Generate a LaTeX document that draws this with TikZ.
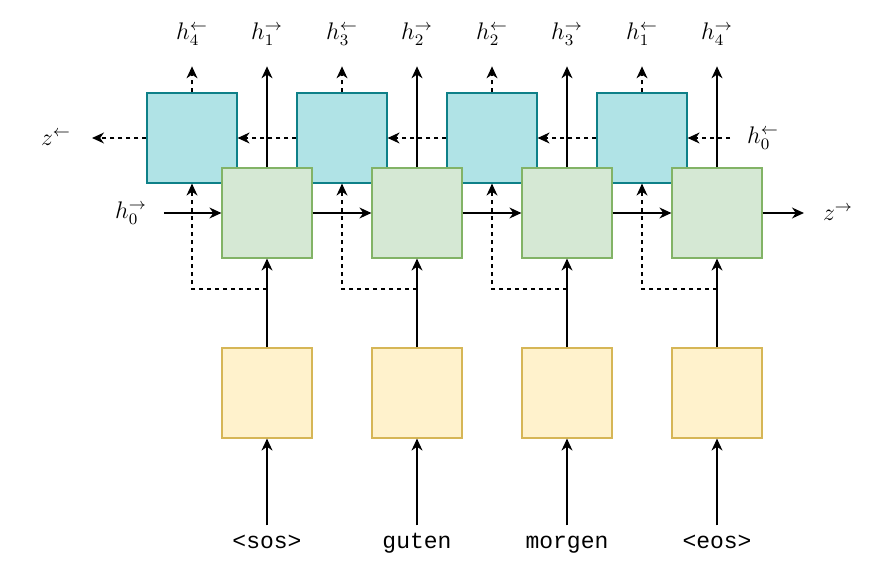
\documentclass[tikz,border=0pt]{standalone}
\usepackage{amsmath}
\usepackage{fontspec}
\setmonofont{Liberation Mono}
\usetikzlibrary{arrows.meta}

\definecolor{bwdFill}{HTML}{B0E3E6}
\definecolor{bwdLine}{HTML}{0E8088}
\definecolor{fwdFill}{HTML}{D5E8D4}
\definecolor{fwdLine}{HTML}{82B366}
\definecolor{embFill}{HTML}{FFF2CC}
\definecolor{embLine}{HTML}{D6B656}

\tikzset{
  cell/.style={draw, line width=0.6pt, minimum size=45pt, inner sep=0pt},
  bwdcell/.style={cell, fill=bwdFill, draw=bwdLine},
  fwdcell/.style={cell, fill=fwdFill, draw=fwdLine},
  embcell/.style={cell, fill=embFill, draw=embLine},
  flow/.style={->, line width=0.7pt},
  back/.style={flow, dash pattern=on 2pt off 2pt},
  token/.style={font=\ttfamily\fontsize{11.5}{14}\selectfont, text height=8pt, text depth=2.5pt},
  state/.style={font=\fontsize{12}{14}\selectfont},
}

\begin{document}
\begin{tikzpicture}[x=0.5pt, y=-0.5pt, >={Stealth[length=6pt,width=5.5pt]}]
    \useasboundingbox (0,0) rectangle (879,562);

    % Backward cells (drawn first, forward cells overlap them)
    \foreach \i/\x in {1/267,2/417,3/567,4/717}
        \node[bwdcell] (b\i) at (\x-75,138) {};

    % Forward cells, embeddings and tokens
    \foreach \i/\x/\w in {1/267/{<sos>},2/417/guten,3/567/morgen,4/717/{<eos>}} {
        \node[fwdcell] (g\i) at (\x,213) {};
        \node[embcell] (e\i) at (\x,393) {};
        \node[token] (t\i) at (\x,543) {\w};
        \coordinate (s\i) at (\x,289);
    }

    % Hidden state labels on top
    \foreach \i/\x [evaluate=\i as \j using int(5-\i)] in {1/267,2/417,3/567,4/717} {
        \node[state] (hf\i) at (\x,34) {$h_{\i}^{\rightarrow}$};
        \node[state] (hb\j) at (\x-75,34) {$h_{\j}^{\leftarrow}$};
    }

    % Vertical connections
    \foreach \i [evaluate=\i as \j using int(5-\i)] in {1,...,4} {
        \draw[flow] (t\i) -- (e\i);
        \draw[flow] (e\i) -- (g\i);
        \draw[back] (s\i) -| (b\i.south);
        \draw[flow, shorten >=7pt] (g\i) -- (hf\i);
        \draw[back, shorten >=7pt] (b\i) -- (hb\j);
    }

    % Recurrent connections
    \foreach \i [evaluate=\i as \n using int(\i+1)] in {1,2,3} {
        \draw[flow] (g\i) -- (g\n);
        \draw[back] (b\n) -- (b\i);
    }

    % Initial and final states
    \node[state] (h0f) at (131,213) {$h_0^{\rightarrow}$};
    \node[state] (zf) at (838,213) {$z^{\rightarrow}$};
    \node[state] (h0b) at (763,138) {$h_0^{\leftarrow}$};
    \node[state] (zb) at (56,138) {$z^{\leftarrow}$};
    \draw[flow, shorten <=5pt] (h0f.east) -- (g1.west);
    \draw[flow, shorten >=6pt] (g4.east) -- (zf.west);
    \draw[back, shorten <=5pt] (h0b.west) -- (b4.east);
    \draw[back, shorten >=7pt] (b1.west) -- (zb.east);
\end{tikzpicture}
\end{document}
